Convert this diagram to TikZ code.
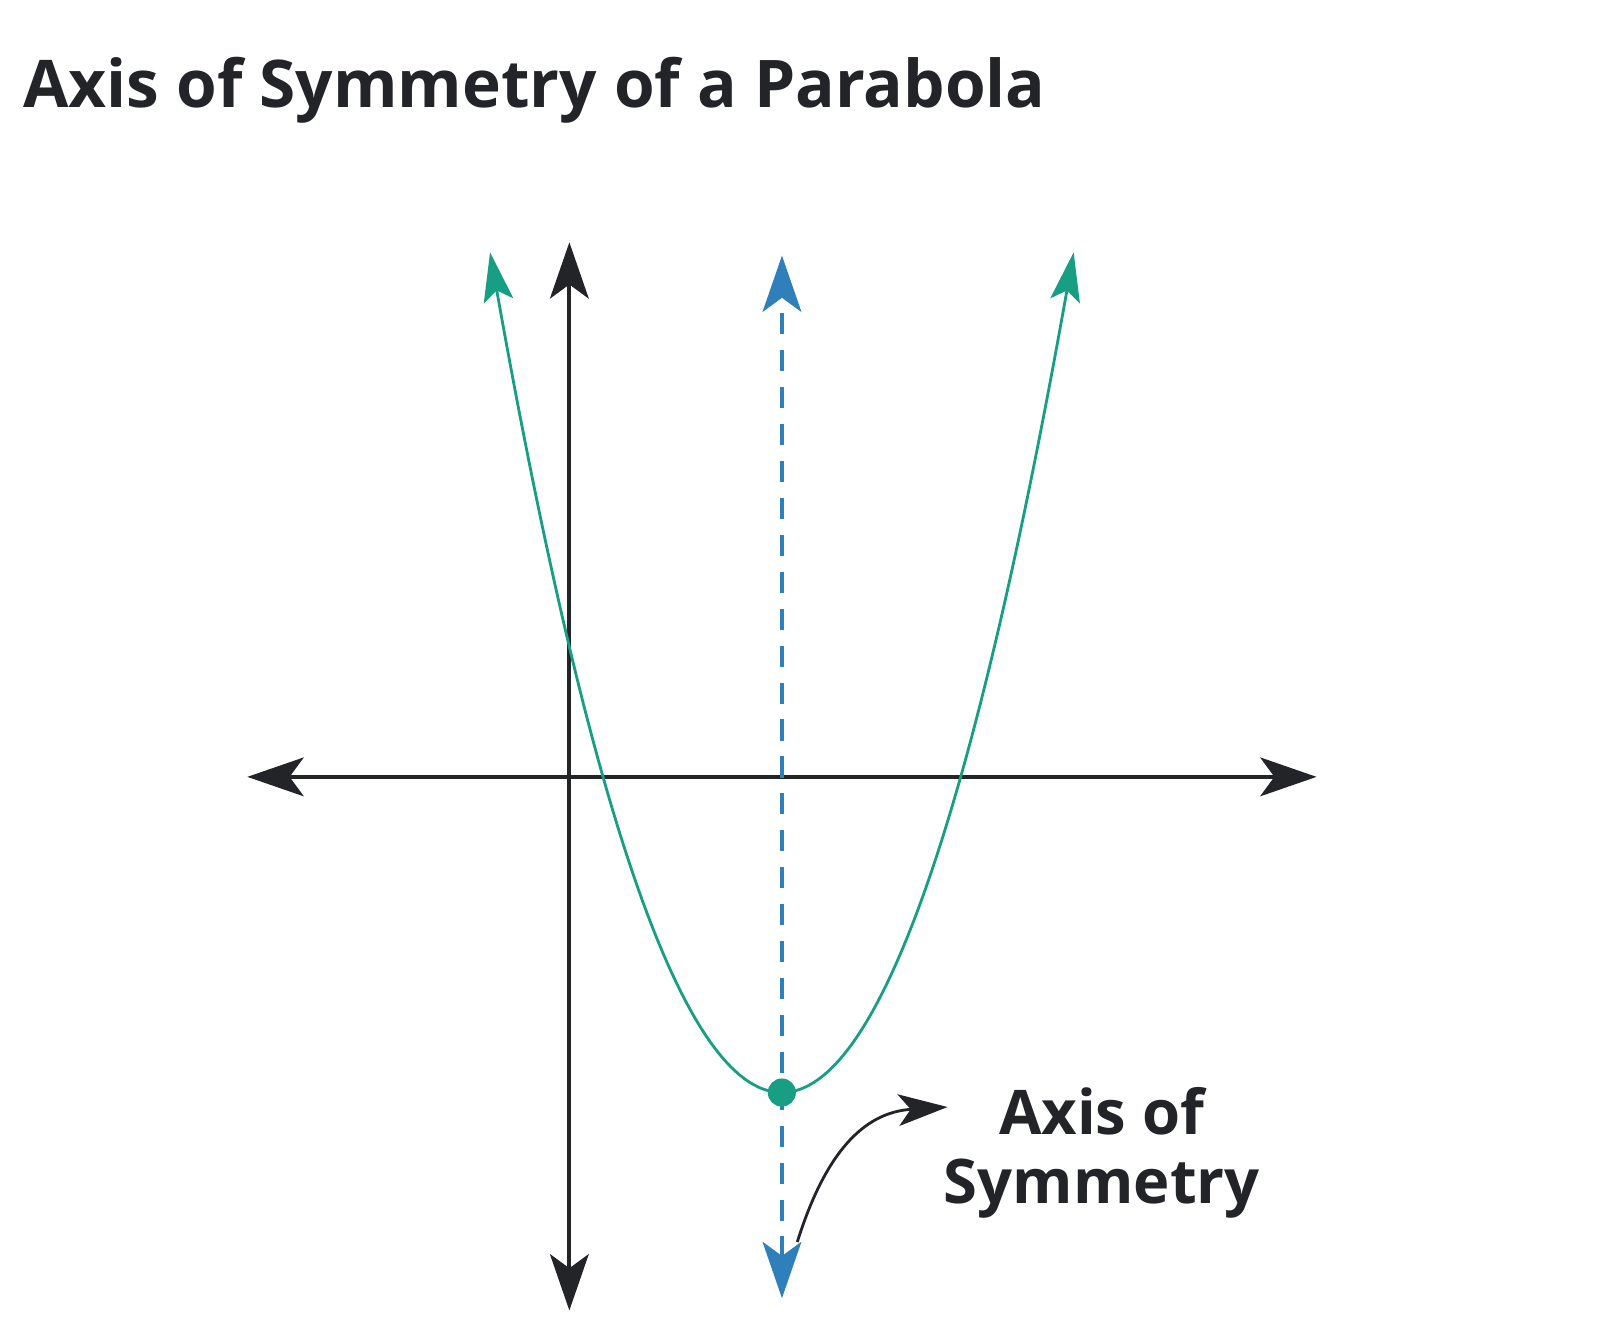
\documentclass[tikz,border=0pt]{standalone}
\usepackage{fontspec}
\setmainfont{Open Sans}
\usetikzlibrary{arrows.meta}
\definecolor{dk}{HTML}{222428}
\definecolor{gr}{HTML}{179E83}
\definecolor{bl}{HTML}{2E7FBA}
\tikzset{
 bigtips/.style={{Stealth[length=16pt,width=11pt,inset=4pt]}-{Stealth[length=16pt,width=11pt,inset=4pt]}},
 gtip/.style={{Stealth[length=14pt,width=8.5pt,inset=3pt]}-{Stealth[length=14pt,width=8.5pt,inset=3pt]}}
}
\begin{document}
\begin{tikzpicture}[x=0.01cm,y=-0.01cm]
\useasboundingbox (0,0) rectangle (1600,1327);
\begin{scope}[scale=1.022]
\node[anchor=base west,inner sep=0,text=dk,font=\bfseries\fontsize{18.7}{23}\selectfont] (title) at (22,105) {Axis of Symmetry of a Parabola};
\coordinate (xl) at (242,760); \coordinate (xr) at (1288,760);
\coordinate (yt) at (557,237); \coordinate (yb) at (557,1282);
\coordinate (at) at (765,250); \coordinate (ab) at (765,1270);
\draw[dk,line width=1.2pt,bigtips] (xl) -- (xr);
\draw[dk,line width=1.2pt,bigtips] (yb) -- (yt);
\draw[bl,line width=1.2pt,dash pattern=on 6pt off 4.5pt,bigtips] (ab) -- (at);
\draw[gr,line width=0.8pt,gtip,samples=120,domain=479.5:1050.5] plot (\x,{1069-0.01009*(\x-765)*(\x-765)});
\node[circle,fill=gr,inner sep=0,minimum size=8pt] (v) at (765,1069) {};
\node[text=dk,font=\bfseries\fontsize{17.5}{19.5}\selectfont,align=center,anchor=north] (lab) at (1078,1052) {Axis of\\Symmetry};
\coordinate (cs) at (780,1215); \coordinate (ce) at (927,1083);
\draw[dk,line width=0.8pt,-{Stealth[length=14pt,width=9pt,inset=3.5pt]}] (cs) .. controls (810,1120) and (850,1088) .. (ce);
\end{scope}
\end{tikzpicture}
\end{document}
